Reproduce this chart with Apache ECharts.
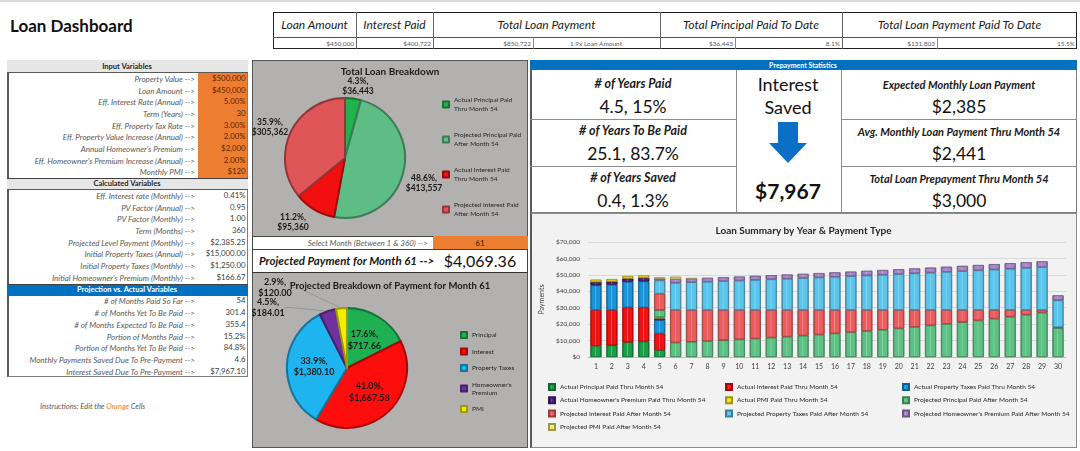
<!DOCTYPE html>
<html>
<head>
<meta charset="utf-8">
<title>Loan Dashboard</title>
<script src="https://cdn.jsdelivr.net/npm/echarts@6.0.0/dist/echarts.min.js"></script>
<style>
  html, body { margin: 0; padding: 0; }
  body { width: 1080px; height: 451px; position: relative; overflow: hidden; background: #fff; font-family: Lato, 'Open Sans', sans-serif; color: #1f1f1f; }
  .box { position: absolute; box-sizing: border-box; }
  .t { position: absolute; white-space: nowrap; line-height: 1; }
  .chart { position: absolute; }
</style>
</head>
<body>
<script>
// ---- data ----
const years = [1, 2, 3, 4, 5, 6, 7, 8, 9, 10, 11, 12, 13, 14, 15, 16, 17, 18, 19, 20, 21, 22, 23, 24, 25, 26, 27, 28, 29, 30];
const actualPrincipal = [6773, 7112, 8967, 9415, 4176, null, null, null, null, null, null, null, null, null, null, null, null, null, null, null, null, null, null, null, null, null, null, null, null, null];
const actualInterest = [21850, 21511, 21156, 20708, 10135, null, null, null, null, null, null, null, null, null, null, null, null, null, null, null, null, null, null, null, null, null, null, null, null, null];
const actualTaxes = [15000, 15300, 15606, 15918, 8118, null, null, null, null, null, null, null, null, null, null, null, null, null, null, null, null, null, null, null, null, null, null, null, null, null];
const actualHomeowner = [2000, 2040, 2081, 2122, 1082, null, null, null, null, null, null, null, null, null, null, null, null, null, null, null, null, null, null, null, null, null, null, null, null, null];
const actualPMI = [1440, 1440, 1440, 1440, 720, null, null, null, null, null, null, null, null, null, null, null, null, null, null, null, null, null, null, null, null, null, null, null, null, null];
const projPrincipal = [null, null, null, null, 4260, 8800, 9240, 9700, 10190, 10700, 11230, 11790, 12380, 13000, 13650, 14330, 15050, 15800, 16590, 17420, 18290, 19210, 20170, 21180, 22240, 23350, 24520, 25750, 27030, 17690];
const projInterest = [null, null, null, null, 10051, 19823, 19383, 18923, 18433, 17923, 17393, 16833, 16243, 15623, 14973, 14293, 13573, 12823, 12033, 11203, 10333, 9413, 8453, 7443, 6383, 5273, 4103, 2873, 1593, 400];
const projTaxes = [null, null, null, null, 8118, 16561, 16892, 17230, 17575, 17926, 18285, 18651, 19024, 19404, 19792, 20188, 20592, 21004, 21424, 21852, 22289, 22735, 23190, 23654, 24127, 24609, 25101, 25603, 26115, 16430];
const projHomeowner = [null, null, null, null, 1082, 2208, 2252, 2297, 2343, 2390, 2438, 2487, 2536, 2587, 2639, 2692, 2746, 2800, 2856, 2914, 2972, 3031, 3092, 3154, 3217, 3281, 3347, 3414, 3482, 3000];
const projPMI = [null, null, null, null, 720, 1440, 240, null, null, null, null, null, null, null, null, null, null, null, null, null, null, null, null, null, null, null, null, null, null, null];

const loanParts = ['Actual Principal Paid\nThru Month 54', 'Projected Principal Paid\nAfter Month 54', 'Actual Interest Paid\nThru Month 54', 'Projected Interest Paid\nAfter Month 54'];
const loanValues = [36443, 413557, 95360, 305362];

const payParts = ['Principal', 'Interest', 'Property Taxes', "Homeowner's\nPremium", 'PMI'];
const payValues = [717.66, 1667.58, 1380.10, 184.01, 120.00];

const summaryHeads = ['Loan Amount', 'Interest Paid', 'Total Loan Payment', 'Total Principal Paid To Date', 'Total Loan Payment Paid To Date'];

const inputRows = [
  ['Property Value -->', '$500,000'],
  ['Loan Amount -->', '$450,000'],
  ['Eff. Interest Rate (Annual) -->', '5.00%'],
  ['Term (Years) -->', '30'],
  ['Eff. Property Tax Rate -->', '3.00%'],
  ['Eff. Property Value Increase (Annual) -->', '2.00%'],
  ["Annual Homeowner's Premium -->", '$2,000'],
  ["Eff. Homeowner's Premium Increase (Annual) -->", '2.00%'],
  ['Monthly PMI -->', '$120']
];
const calcRows = [
  ['Eff. Interest rate (Monthly) -->', '0.41%'],
  ['PV Factor (Annual) -->', '0.95'],
  ['PV Factor (Monthly) -->', '1.00'],
  ['Term (Months) -->', '360'],
  ['Projected Level Payment (Monthly) -->', '$2,385.25'],
  ['Initial Property Taxes (Annual) -->', '$15,000.00'],
  ['Initial Property Taxes (Monthly) -->', '$1,250.00'],
  ["Initial Homeowner's Premium (Monthly) -->", '$166.67']
];
const projRows = [
  ['# of Months Paid So Far -->', '54'],
  ['# of Months Yet To Be Paid -->', '301.4'],
  ['# of Months Expected To Be Paid -->', '355.4'],
  ['Portion of Months Paid -->', '15.2%'],
  ['Portion of Months Yet To Be Paid -->', '84.8%'],
  ['Monthly Payments Saved Due To Pre-Payment -->', '4.6'],
  ['Interest Saved Due To Pre-Payment -->', '$7,967.10']
];

// ---- small helpers ----
const page = document.body;
function box(x, y, w, h, css) {
  const d = document.createElement('div');
  d.className = 'box';
  Object.assign(d.style, { left: x + 'px', top: y + 'px', width: w + 'px', height: h + 'px' }, css || {});
  page.appendChild(d);
  return d;
}
function text(str, x, y, opt) {
  opt = opt || {};
  const d = document.createElement('div');
  d.className = 't';
  d.innerHTML = str;
  const tx = opt.align === 'right' ? '-100%' : opt.align === 'left' ? '0' : '-50%';
  Object.assign(d.style, {
    left: x + 'px', top: y + 'px', transform: 'translate(' + tx + ',-50%)',
    fontSize: (opt.size || 8) + 'px', fontWeight: opt.weight || 'normal',
    fontStyle: opt.italic ? 'italic' : 'normal', color: opt.color || '#262626'
  });
  page.appendChild(d);
  return d;
}
function shade(hex, amt) {
  const n = parseInt(hex.slice(1), 16);
  const f = c => Math.round(amt < 0 ? c * (1 + amt) : c + (255 - c) * amt);
  return 'rgb(' + f(n >> 16) + ',' + f((n >> 8) & 255) + ',' + f(n & 255) + ')';
}
function bevel(c) {
  return {
    type: 'linear', x: 0, y: 0, x2: 1, y2: 0,
    colorStops: [
      { offset: 0, color: shade(c, -0.3) },
      { offset: 0.16, color: c },
      { offset: 0.4, color: c },
      { offset: 0.47, color: shade(c, 0.3) },
      { offset: 0.54, color: c },
      { offset: 0.84, color: c },
      { offset: 1, color: shade(c, -0.3) }
    ]
  };
}
const money = v => '$' + v.toLocaleString('en-US');
const money2 = v => '$' + v.toLocaleString('en-US', { minimumFractionDigits: 2, maximumFractionDigits: 2 });
const sum = arr => arr.reduce((a, b) => a + b, 0);

// ---- header ----
box(0, 0, 1080, 2, { background: '#d9d9d9' });
text('Loan Dashboard', 10, 25, { align: 'left', size: 17, weight: 'bold', color: '#111' });

box(273, 12, 804, 37, { border: '1.5px solid #222' });
box(273, 37, 804, 1, { background: '#555' });
[356, 433, 660, 842].forEach(x => box(x, 12, 1, 37, { background: '#666' }));
[533, 735, 937].forEach(x => box(x, 37, 1, 12, { background: '#888' }));
const headCenters = [314.5, 394.5, 546.5, 751, 959.5];
summaryHeads.forEach((h, i) => text(h, headCenters[i], 25, { size: 12, italic: true, color: '#1a1a1a' }));
const sv = { size: 6.5, color: '#595959', align: 'right' };
text('$450,000', 354, 43.5, sv);
text('$400,722', 431, 43.5, sv);
text('$850,722', 531, 43.5, sv);
text('1.9x Loan Amount', 596, 43.5, { size: 6.5, color: '#595959' });
text('$36,443', 733, 43.5, sv);
text('8.1%', 840, 43.5, sv);
text('$131,803', 935, 43.5, sv);
text('15.5%', 1075, 43.5, sv);

// ---- left panel ----
box(7, 60, 241, 317, { border: '1px solid #7f7f7f', borderLeft: '2px solid #595959' });
const rowH = 11.7;
function headerRow(label, y, h, css, color) {
  box(7, y, 241, h, css);
  text(label, 127, y + h / 2, { size: 7.5, weight: 'bold', color: color || '#262626' });
}
function rows(list, y0, orange) {
  if (orange) box(198, y0, 49, list.length * rowH, { background: '#ed7d31' });
  list.forEach((r, i) => {
    const cy = y0 + rowH * i + rowH / 2;
    text(r[0], 195, cy, { size: 8, italic: true, color: '#595959', align: 'right' });
    text(r[1], 245.5, cy, { size: 7.8, color: orange ? '#5a2506' : '#404040', align: 'right' });
  });
}
headerRow('Input Variables', 60, 13, { background: '#e7e6e6', borderBottom: '1px solid #595959' });
rows(inputRows, 73, true);
headerRow('Calculated Variables', 178, 12, { background: '#e7e6e6', borderTop: '1.5px solid #404040', borderBottom: '1px solid #595959' });
rows(calcRows, 190, false);
headerRow('Projection vs. Actual Variables', 283.6, 12, { background: '#0070c0', borderTop: '1px solid #404040' }, '#fff');
rows(projRows, 295.6, false);
text('Instructions: Edit the <span style="color:#ed7d31">Orange</span> Cells', 40, 407, { size: 7.5, italic: true, color: '#595959', align: 'left' });

// ---- middle panel ----
box(252, 60, 276, 388, { background: '#b3b1af', border: '1px solid #555' });
box(252, 236, 276, 37, { background: '#fff', border: '1px solid #444', borderBottom: '1.5px solid #333' });
box(252, 249, 276, 1, { background: '#444' });
box(433, 236, 95, 13, { background: '#ed7d31' });
text('Select Month (Between 1 &amp; 360) -->', 428, 242.5, { size: 8, italic: true, color: '#595959', align: 'right' });
text('61', 480, 242.5, { size: 8, color: '#3a1a05' });
text('Projected Payment for Month 61 -->', 259, 261, { size: 11.5, italic: true, weight: 'bold', color: '#1a1a1a', align: 'left' });
text('$4,069.36', 480, 261, { size: 16, color: '#111' });

// ---- prepayment statistics ----
box(530, 60, 547, 153, { border: '1px solid #7f7f7f', borderLeft: '2px solid #595959' });
box(530, 60, 547, 10, { background: '#0070c0' });
text('Prepayment Statistics', 803, 65, { size: 7, weight: 'bold', color: '#fff' });
box(736, 70, 1, 143, { background: '#8c8c8c' });
box(841, 70, 1, 143, { background: '#8c8c8c' });
[119, 166].forEach(y => { box(530, y, 206, 1, { background: '#8c8c8c' }); box(841, y, 236, 1, { background: '#8c8c8c' }); });
const statLab = { size: 12.5, italic: true, weight: 'bold', color: '#1a1a1a' };
const statVal = { size: 17.5, color: '#111' };
const statLab2 = { size: 11, italic: true, weight: 'bold', color: '#1a1a1a' };
[['# of Years Paid', '4.5, 15%'], ['# of Years To Be Paid', '25.1, 83.7%'], ['# of Years Saved', '0.4, 1.3%']].forEach((p, i) => {
  text(p[0], 633, 84 + 47 * i, statLab);
  text(p[1], 633, 107 + 47 * i, statVal);
});
[['Expected Monthly Loan Payment', '$2,385'], ['Avg. Monthly Loan Payment Thru Month 54', '$2,441'], ['Total Loan Prepayment Thru Month 54', '$3,000']].forEach((p, i) => {
  text(p[0], 959, 84 + 47 * i, statLab2);
  text(p[1], 959, 107 + 47 * i, statVal);
});
text('Interest', 788, 84, { size: 18, color: '#111' });
text('Saved', 788, 107, { size: 18, color: '#111' });
text('$7,967', 788, 190, { size: 21, weight: 'bold', color: '#111' });
const arrow = box(768, 122, 40, 41);
arrow.innerHTML = '<svg width="40" height="41"><polygon points="10,0 30,0 30,21 39,21 20,41 1,21 10,21" fill="#0b6fc6"/></svg>';

// ---- bar chart panel ----
box(530, 213, 547, 235, { background: '#f2f2f2', border: '1px solid #8c8c8c', borderLeft: '2px solid #595959' });

function chartDiv(id, x, y, w, h) {
  const d = document.createElement('div');
  d.id = id; d.className = 'chart';
  Object.assign(d.style, { left: x + 'px', top: y + 'px', width: w + 'px', height: h + 'px' });
  page.appendChild(d);
  return d;
}

const font = 'Lato, "Open Sans", sans-serif';

// ---- pie 1: total loan breakdown ----
const loanColors = ['#22b24c', '#5dbd84', '#f20f0f', '#e05557'];
const loanTotal = sum(loanValues);
// label anchor spots (chart px), like Excel's best-fit placement
const pie1LabelPos = [[106, 26], [172, 123], [41, 162], [18, 67]];
const pie1 = echarts.init(chartDiv('pie1', 252, 60, 276, 176));
pie1.setOption({
  textStyle: { fontFamily: font },
  title: { text: 'Total Loan Breakdown', left: 'center', top: 2, textStyle: { fontSize: 10, fontWeight: 'bold', color: '#1a1a1a', fontFamily: font } },
  legend: {
    orient: 'vertical', left: 190, top: 36, itemGap: 18, itemWidth: 6, itemHeight: 6, icon: 'rect',
    padding: 0, textStyle: { fontSize: 6.5, lineHeight: 8.5, color: '#262626', fontFamily: font }
  },
  series: [{
    type: 'pie', center: [93, 98], radius: 60, startAngle: 90,
    avoidLabelOverlap: false,
    data: loanParts.map((n, i) => ({
      name: n, value: loanValues[i],
      itemStyle: { color: loanColors[i], borderColor: shade(loanColors[i], -0.35), borderWidth: 2 }
    })),
    label: {
      position: 'outside', fontSize: 8.5, fontWeight: 'bold', color: '#1a1a1a', lineHeight: 10, fontFamily: font,
      formatter: p => (p.value / loanTotal * 100).toFixed(1) + '%,\n' + money(p.value)
    },
    labelLine: { show: false },
    labelLayout: p => ({ x: pie1LabelPos[p.dataIndex][0], y: pie1LabelPos[p.dataIndex][1], align: 'center', verticalAlign: 'middle' }),
    emphasis: { disabled: true }
  }]
});

// ---- pie 2: payment breakdown for month 61 ----
const payColors = ['#1fb052', '#fe0d0d', '#1db4ef', '#7030a0', '#f2ee00'];
const payTotal = sum(payValues);
const pie2 = echarts.init(chartDiv('pie2', 252, 273, 276, 175));
pie2.setOption({
  textStyle: { fontFamily: font },
  title: { text: 'Projected Breakdown of Payment for Month 61', left: 'center', top: 3, textStyle: { fontSize: 9.5, fontWeight: 'bold', color: '#1a1a1a', fontFamily: font } },
  legend: {
    orient: 'vertical', left: 208, top: 58, itemGap: 8.5, itemWidth: 6, itemHeight: 6, icon: 'rect',
    padding: 0, textStyle: { fontSize: 6.5, lineHeight: 8, color: '#262626', fontFamily: font }
  },
  series: [{
    type: 'pie', center: [95, 95], radius: 60, startAngle: 90,
    avoidLabelOverlap: false,
    data: payParts.map((n, i) => ({
      name: n, value: payValues[i],
      itemStyle: { color: payColors[i], borderColor: shade(payColors[i], -0.35), borderWidth: 2 },
      label: { position: i < 3 ? 'inside' : 'outside' },
      labelLine: { show: i >= 3 }
    })),
    label: {
      fontSize: 9, fontWeight: 'bold', color: '#1a1a1a', lineHeight: 11.5, fontFamily: font,
      formatter: p => (p.value / payTotal * 100).toFixed(1) + '%,\n' + money2(p.value)
    },
    labelLine: { length: 6, length2: 6, lineStyle: { color: '#8a8a8a', width: 0.7 } },
    labelLayout: p => p.dataIndex === 4 ? { x: 23, y: 14.5, align: 'center', verticalAlign: 'middle' }
      : p.dataIndex === 3 ? { x: 16, y: 34.5, align: 'center', verticalAlign: 'middle' } : {},
    emphasis: { disabled: true }
  }]
});

// ---- bar chart: loan summary by year ----
const barSeries = [
  ['Actual Principal Paid Thru Month 54', actualPrincipal, '#1a9e47'],
  ['Actual Interest Paid Thru Month 54', actualInterest, '#ee1414'],
  ['Actual Property Taxes Paid Thru Month 54', actualTaxes, '#1b93d9'],
  ["Actual Homeowner's Premium Paid Thru Month 54", actualHomeowner, '#4a2182'],
  ['Actual PMI Paid Thru Month 54', actualPMI, '#f5e31a'],
  ['Projected Principal Paid After Month 54', projPrincipal, '#5cc283'],
  ['Projected Interest Paid After Month 54', projInterest, '#eb5c5c'],
  ['Projected Property Taxes Paid After Month 54', projTaxes, '#5ac5ec'],
  ["Projected Homeowner's Premium Paid After Month 54", projHomeowner, '#a585c8'],
  ['Projected PMI Paid After Month 54', projPMI, '#f2ea70']
];
const legendCols = [[0, 3, 6, 9], [1, 4, 7], [2, 5, 8]];
const legendLefts = [18, 195, 372];
const bar = echarts.init(chartDiv('bar', 530, 213, 547, 235));
bar.setOption({
  textStyle: { fontFamily: font },
  title: { text: 'Loan Summary by Year & Payment Type', left: 'center', top: 8, textStyle: { fontSize: 10, fontWeight: 'bold', color: '#262626', fontFamily: font } },
  legend: legendCols.map((col, k) => ({
    orient: 'vertical', left: legendLefts[k], top: 169, itemGap: 3.3, itemWidth: 6, itemHeight: 6, icon: 'rect', padding: 0,
    data: col.map(i => barSeries[i][0]),
    textStyle: { fontSize: 6.5, lineHeight: 10, color: '#262626', fontFamily: font }
  })),
  grid: { left: 54, right: 11, top: 29, bottom: 91 },
  xAxis: {
    type: 'category', data: years,
    axisTick: { show: false },
    axisLine: { lineStyle: { color: '#bfbfbf' } },
    axisLabel: { fontSize: 7, color: '#404040', margin: 6 }
  },
  yAxis: {
    type: 'value', min: 0, max: 70000, interval: 10000,
    name: 'Payments', nameLocation: 'middle', nameGap: 37, nameRotate: 90,
    nameTextStyle: { fontSize: 7, color: '#404040' },
    axisLabel: { fontSize: 6.5, color: '#404040', margin: 8, formatter: money },
    splitLine: { lineStyle: { color: '#d9d9d9' } }
  },
  series: barSeries.map(([name, data, color]) => ({
    name, type: 'bar', stack: 'total', data, barWidth: 11,
    itemStyle: { color: bevel(color), borderColor: shade(color, -0.35), borderWidth: 0.6 },
    emphasis: { disabled: true }
  }))
});
</script>
</body>
</html>
